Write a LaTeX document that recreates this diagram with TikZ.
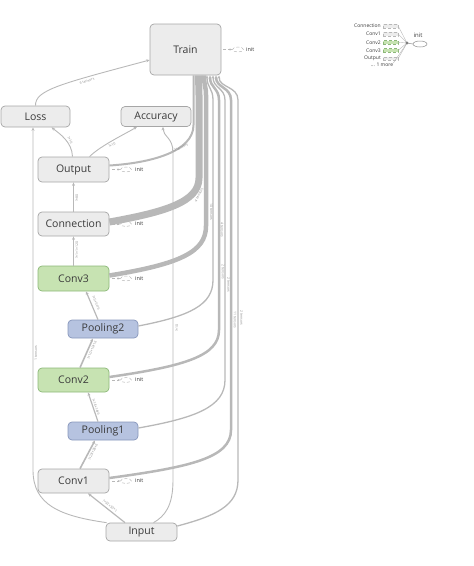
\documentclass[tikz,border=0pt]{standalone}
\usepackage{fontspec}
\setmainfont{Open Sans}
\usetikzlibrary{arrows.meta,shapes.geometric}
\definecolor{nodegray}{HTML}{ECECEC}
\definecolor{nodeedge}{HTML}{A6A6A6}
\definecolor{greenfill}{HTML}{C7E3B2}
\definecolor{greenedge}{HTML}{8CB878}
\definecolor{bluefill}{HTML}{B6C3E0}
\definecolor{blueedge}{HTML}{8796BB}
\definecolor{edgec}{HTML}{B8B8B8}
\definecolor{labc}{HTML}{8C8C8C}
\definecolor{textc}{HTML}{3A3A3A}
\begin{document}
\begin{tikzpicture}[x=1pt,y=-1pt,
  box/.style={draw=nodeedge, fill=nodegray, rounded corners=4pt, line width=0.7pt, inner sep=0pt, text=textc, font=\fontsize{10.5}{12}\selectfont},
  greenbox/.style={box, draw=greenedge, fill=greenfill},
  bluebox/.style={box, draw=blueedge, fill=bluefill},
  flow/.style={draw=edgec, line width=1.2pt, -{Stealth[length=3.5pt,width=3pt]}},
  lane/.style={draw=edgec, -{Stealth[length=3pt,width=2.6pt]}},
  band/.style={draw=edgec},
  elab/.style={font=\fontsize{3.5}{4}\selectfont, text=labc, inner sep=0.5pt},
  initell/.style={draw=edgec, densely dashed, ellipse, minimum width=11pt, minimum height=5pt, inner sep=0pt, line width=0.5pt},
  inittxt/.style={font=\fontsize{5.5}{6}\selectfont, text=textc, inner sep=0pt},
  initarr/.style={draw=edgec, densely dashed, line width=0.5pt, -{Stealth[length=2.5pt,width=2pt]}},
  leglab/.style={font=\fontsize{5}{6}\selectfont, text=textc, inner sep=0pt},
  stub/.style={draw=edgec, densely dashed, line width=0.4pt, minimum width=15pt, minimum height=3.5pt, inner sep=0pt},
]
\useasboundingbox (0,0) rectangle (474,566);

% ---------- nodes ----------
\node[box, minimum width=71pt, minimum height=51pt] (Train) at (185.5,49.5) {Train};
\node[box, minimum width=69pt, minimum height=21pt] (Loss) at (35.5,116.5) {Loss};
\node[box, minimum width=70pt, minimum height=20pt] (Accuracy) at (156,116.5) {Accuracy};
\node[box, minimum width=71pt, minimum height=25pt] (Output) at (73.5,169.5) {Output};
\node[box, minimum width=71pt, minimum height=24pt] (Connection) at (73.5,224) {Connection};
\node[greenbox, minimum width=71pt, minimum height=25pt] (Conv3) at (73.5,278.5) {Conv3};
\node[bluebox, minimum width=70pt, minimum height=18pt] (Pooling2) at (103,329) {Pooling2};
\node[greenbox, minimum width=71pt, minimum height=24pt] (Conv2) at (73.5,380) {Conv2};
\node[bluebox, minimum width=70pt, minimum height=18pt] (Pooling1) at (103,431) {Pooling1};
\node[box, minimum width=71pt, minimum height=24pt] (Conv1) at (73.5,481) {Conv1};
\node[box, minimum width=71pt, minimum height=18pt] (Input) at (141.5,532) {Input};

% ---------- init markers ----------
\node[initell] (tinit) at (238,49.5) {};
\node[inittxt, anchor=west] (tinitt) at (246,49.5) {init};
\draw[initarr] ([xshift=2pt]Train.east) -- (tinit);
\foreach \n/\y in {Output/169.5, Connection/224, Conv3/278.5, Conv2/380, Conv1/481}{
  \node[initell] (\n init) at (126,\y) {};
  \node[inittxt, anchor=west] (\n initt) at (135,\y) {init};
  \draw[initarr] ([xshift=3pt]\n.east) -- (\n init);
}

% ---------- lanes into Train ----------
\draw[band, line width=2pt] ([yshift=4pt]Output.east) .. controls (150,163) and (193.5,152) .. (193.5,125) -- ([xshift=8pt]Train.south);
\draw[band, line width=7pt] ([yshift=2pt]Connection.east) .. controls (165,212) and (199,202) .. (199,178) -- (199,95) -- ([xshift=13pt]Train.south);
\draw[band, line width=4.5pt] ([yshift=3pt]Conv3.east) .. controls (180,264) and (206,252) .. (206,226) -- (206,95) .. controls (206,86) and (204,86) .. ([xshift=18.5pt]Train.south);
\draw[lane, line width=1.3pt] ([yshift=3pt]Pooling2.east) .. controls (190,316) and (213,305) .. (213,280) -- (213,100) .. controls (213,88) and (207,88) .. ([xshift=21.5pt]Train.south);
\draw[lane, line width=2.5pt] ([yshift=3pt]Conv2.east) .. controls (185,366) and (219,356) .. (219,330) -- (219,100) .. controls (219,88) and (210,88) .. ([xshift=24.5pt]Train.south);
\draw[lane, line width=1.3pt] ([yshift=3pt]Pooling1.east) .. controls (195,418) and (225,407) .. (225,380) -- (225,100) .. controls (225,88) and (213,88) .. ([xshift=27.5pt]Train.south);
\draw[lane, line width=2.5pt] ([yshift=3pt]Conv1.east) .. controls (190,467) and (231,458) .. (231,430) -- (231,100) .. controls (231,87) and (216,88) .. ([xshift=30.5pt]Train.south);
\draw[lane, line width=1.3pt] ([yshift=6pt]Input.east) .. controls (215,516) and (238,506) .. (238,480) -- (238,100) .. controls (238,86) and (219,88) .. ([xshift=33.5pt]Train.south);

% ---------- other connectors ----------
\draw[flow, line width=0.9pt] (Loss.north) .. controls (35,90) and (60,84) .. ([yshift=-10.5pt]Train.west);
\draw[flow, line width=0.9pt] ([xshift=-1pt]Output.north) .. controls (72,142) and (60,134) .. ([xshift=16pt]Loss.south);
\draw[flow, line width=0.9pt] ([xshift=16pt]Output.north) .. controls (100,146) and (125,134) .. ([xshift=-19pt]Accuracy.south);
\draw[flow, line width=0.9pt] ([xshift=12pt]Input.north) .. controls (165,516) and (173,506) .. (173,480) -- (173,152) .. controls (173,138) and (163,136) .. ([xshift=7pt]Accuracy.south);
\draw[flow, line width=0.9pt] (Input.165) .. controls (60,516) and (33,505) .. (33,470) -- ([xshift=-2.5pt]Loss.south);

\draw[flow] (Connection.north) -- (Output.south);
\draw[flow, line width=1.8pt] (Conv3.north) -- (Connection.south);
\draw[flow] ([xshift=-5pt]Pooling2.north) -- ([xshift=12.5pt]Conv3.south);
\draw[flow, line width=1.6pt] ([xshift=6.5pt]Conv2.north) -- ([xshift=-10pt]Pooling2.south);
\draw[flow] ([xshift=-5pt]Pooling1.north) -- ([xshift=14.5pt]Conv2.south);
\draw[flow, line width=1.6pt] ([xshift=6.5pt]Conv1.north) -- ([xshift=-8pt]Pooling1.south);
\draw[flow] ([xshift=-16.5pt]Input.north) -- ([xshift=14.5pt]Conv1.south);

% ---------- edge labels ----------
\node[elab, rotate=16] at (87,81) {6 tensors};
\node[elab, rotate=-62] at (70,140) {?×10};
\node[elab, rotate=30] at (112,145) {?×10};
\node[elab, rotate=24] at (180,148) {12 tensors};
\node[elab, rotate=62] at (199,195) {4 tensors};
\node[elab, rotate=90] at (177,328) {?×10};
\node[elab, rotate=90] at (36,353) {1 tensors};
\node[elab, rotate=90] at (77,198) {?×80};
\node[elab, rotate=90] at (77,250) {?×1×1×120};
\node[elab, rotate=-68] at (96,303) {?×5×5×16};
\node[elab, rotate=67] at (92,350) {?×10×10×16};
\node[elab, rotate=-71] at (96,407) {?×14×14×6};
\node[elab, rotate=63] at (93,452) {?×28×28×6};
\node[elab, rotate=-39] at (110,506) {?×32×32×1};
\node[elab, rotate=-90] at (211.5,212) {10 tensors};
\node[elab, rotate=-90] at (222,230) {4 tensors};
\node[elab, rotate=-90] at (223,272) {2 tensors};
\node[elab, rotate=-90] at (228.5,285) {2 tensors};
\node[elab, rotate=-90] at (235,320) {11 tensors};
\node[elab, rotate=-90] at (241.5,318) {2 tensors};

% ---------- legend ----------
\node[leglab, anchor=east] (lg1) at (381,26) {Connection};
\node[leglab, anchor=east] (lg2) at (381,34) {Conv1};
\node[leglab, anchor=east] (lg3) at (381,42.3) {Conv2};
\node[leglab, anchor=east] (lg4) at (381,50.3) {Conv3};
\node[leglab, anchor=east] (lg5) at (381,58.5) {Output};
\node[leglab] (lg6) at (382,65) {... 1 more};
\node[stub, fill=nodegray] (s1) at (390.5,26) {};
\node[stub, fill=nodegray] (s2) at (390.5,34) {};
\node[stub, fill=greenfill, draw=greenedge] (s3) at (390.5,42.3) {};
\node[stub, fill=greenfill, draw=greenedge] (s4) at (390.5,50.3) {};
\node[stub, fill=nodegray] (s5) at (390.5,58.5) {};
\coordinate (ldot) at (407,43);
\foreach \s in {s1,s2,s3,s4,s5}{ \draw[edgec, line width=0.4pt] (\s.east) -- (ldot); }
\draw[edgec, line width=0.4pt] (lg6.north east) -- (ldot);
\node[draw=black!45, ellipse, minimum width=14pt, minimum height=6pt, inner sep=0pt, line width=0.5pt] (linit) at (420,44) {};
\draw[black!45, line width=0.5pt] (ldot) -- (linit.west);
\fill[black!50] (ldot) circle (1.6pt);
\node[leglab, font=\fontsize{6}{7}\selectfont] (linitt) at (418,35) {init};
\end{tikzpicture}
\end{document}
